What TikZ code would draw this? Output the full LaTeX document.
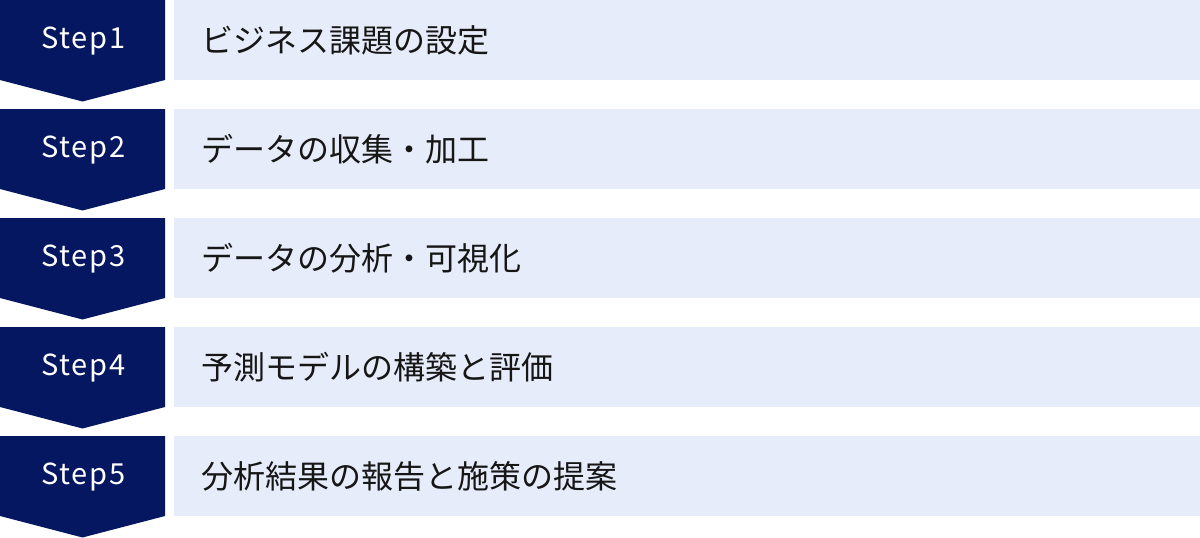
\documentclass[tikz,border=0pt]{standalone}
\usepackage{fontspec}
\newfontfamily\jp{Noto Sans CJK JP}
\newfontfamily\jpspaced[LetterSpace=6]{Noto Sans CJK JP}
\definecolor{navy}{HTML}{051761}
\definecolor{pale}{HTML}{E6ECF9}
\definecolor{ink}{HTML}{161616}
\begin{document}
\begin{tikzpicture}[x=1pt,y=-1pt,
  stepshape/.style={fill=navy,draw=none},
  rowbox/.style={fill=pale,draw=none},
  steplabel/.style={text=white,font=\jpspaced\fontsize{29}{32}\selectfont,inner sep=0pt,anchor=center},
  rowlabel/.style={text=ink,font=\jp\fontsize{32}{36}\selectfont,inner sep=0pt,anchor=west}]
\useasboundingbox (0,0) rectangle (1200,538);
\foreach \k/\txt in {0/ビジネス課題の設定,1/データの収集・加工,2/データの分析・可視化,3/予測モデルの構築と評価,4/分析結果の報告と施策の提案}{
  \pgfmathsetmacro{\t}{109*\k}
  \pgfmathtruncatemacro{\n}{\k+1}
  \fill[stepshape] (0,\t) -- (165,\t) -- (165,\t+80) -- (82.5,\t+101.5) -- (0,\t+80) -- cycle;
  \fill[rowbox] (174,\t) rectangle (1200,\t+80);
  \node[steplabel] (s\n) at (83.5,\t+41) {Step\n};
  \node[rowlabel] (t\n) at (201,\t+40) {\txt};
}
\end{tikzpicture}
\end{document}
